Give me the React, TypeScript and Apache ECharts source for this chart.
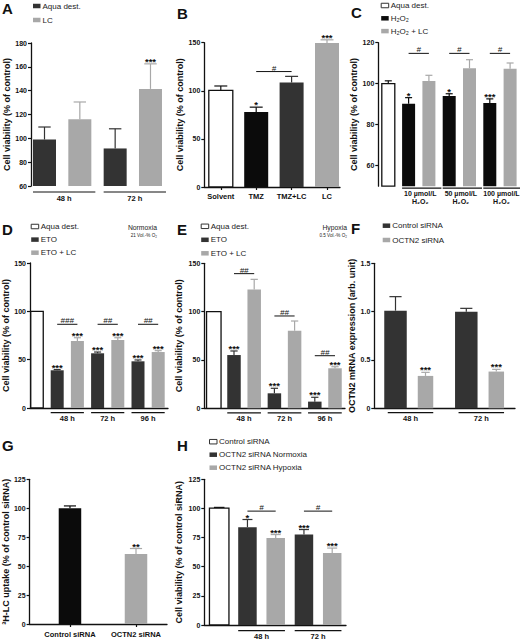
import React, { useEffect, useRef } from "react";
import * as echarts from "echarts";

// ---------------- DATA ----------------
// Panel A
const A_times = ["48 h", "72 h"];
const A_aqua = [99, 91.5];
const A_aquaErr = [10.5, 16.5];
const A_lc = [116, 141.5];
const A_lcErr = [14.5, 21];
const A_lcSig = ["", "***"];

// Panel B
const B_groups = ["Solvent", "TMZ", "TMZ+LC", "LC"];
const B_values = [100.4, 78, 108.6, 149.6];
const B_err = [4.6, 5, 6.4, 3.4];
const B_sig = ["", "*", "", "***"];
const B_hashY = [120];
const B_hashLabel = ["#"];

// Panel C
const C_doses = ["10 µmol/L", "50 µmol/L", "100 µmol/L"];
const C_aqua = [100];
const C_aquaErr = [1.4];
const C_h2o2 = [90.2, 94, 90.6];
const C_h2o2Err = [3, 1.1, 2];
const C_h2o2Sig = ["*", "*", "***"];
const C_lc = [101.3, 107.5, 107.3];
const C_lcErr = [2.8, 4.2, 2.8];
const C_hashY = [114.8, 114.8, 114.8];
const C_hashLabel = ["#", "#", "#"];

// Panel D (Normoxia)
const D_times = ["48 h", "72 h", "96 h"];
const D_aqua = [100];
const D_eto = [39, 56.6, 48.3];
const D_etoErr = [0.7, 1.3, 1.4];
const D_etoSig = ["***", "***", "***"];
const D_lc = [69.3, 70.3, 57.9];
const D_lcErr = [3.4, 2.4, 1.4];
const D_lcSig = ["***", "***", "***"];
const D_hashY = [86.6, 86.6, 86.6];
const D_hashLabel = ["###", "##", "##"];

// Panel E (Hypoxia)
const E_times = ["48 h", "72 h", "96 h"];
const E_aqua = [100];
const E_eto = [55.1, 15.5, 6.9];
const E_etoErr = [4.2, 5.2, 4.5];
const E_etoSig = ["***", "***", "***"];
const E_lc = [122.9, 80.3, 41.4];
const E_lcErr = [10.5, 10, 1.6];
const E_lcSig = ["", "", "***"];
const E_hashY = [139.3, 95.5, 54.4];
const E_hashLabel = ["##", "##", "##"];

// Panel F
const F_times = ["48 h", "72 h"];
const F_ctrl = [1.01, 1.0];
const F_ctrlErr = [0.145, 0.034];
const F_octn = [0.335, 0.38];
const F_octnErr = [0.037, 0.023];
const F_octnSig = ["***", "***"];
const F_ticks = ["0", "0.5", "1.0", "1.5"];

// Panel G
const G_groups = ["Control siRNA", "OCTN2 siRNA"];
const G_values = [100, 60.5];
const G_err = [2, 4.7];
const G_sig = ["", "**"];

// Panel H
const H_times = ["48 h", "72 h"];
const H_ctrl = [100.3];
const H_ctrlErr = [0.6];
const H_norm = [83.9, 77.6];
const H_normErr = [6.6, 4.3];
const H_normSig = ["*", "***"];
const H_hyp = [74.7, 61.8];
const H_hypErr = [2.9, 4.2];
const H_hypSig = ["***", "***"];
const H_hashY = [97.7, 97.7];
const H_hashLabel = ["#", "#"];

// ---------------- STYLE ----------------
const FONT = '"Liberation Sans", Arial, Helvetica, sans-serif';
const INK = "#111111";
const DARK = "#333333";
const BLACK = "#0b0b0b";
const LIGHT = "#a8a8a8";
const WHITE = "#ffffff";
const YNAME = "Cell viability (% of control)";

type Bar = {
  name: string;
  slots: number[];
  values: number[];
  errs: number[];
  sig?: string[];
  color: string | string[];
  barW: number;
};
type Panel = {
  id: string;
  geom: { axisX: number; top: number; bottom: number; c0: number; s: number; right: number };
  y: { min: number; max: number; interval?: number; custom?: number[]; fmt?: (v: number) => string };
  yName: string;
  nameGap: number;
  xLine: boolean;
  xLabels?: { slots: number[]; labels: string[]; margin: number };
  bars: Bar[];
  brackets?: { a: number; b: number; y: number; label: string }[];
  groups?: { a: number; b: number; label: string }[];
  gl?: { lineOff: number; labelOff: number; extL: number; extR: number; lineH?: number; font?: number; shift?: number };
  legend?: { left: number; top: number; gap: number };
};

const pairSlots = (n: number, k: number, start: number, step: number) =>
  Array.from({ length: n }, (_, g) => start + g * step + k);

const panels: Panel[] = [
  {
    id: "A",
    geom: { axisX: 31, top: 43, bottom: 186, c0: 44.5, s: 35.33, right: 168 },
    y: { min: 60, max: 180, interval: 20 },
    yName: YNAME,
    nameGap: 18,
    xLine: false,
    bars: [
      { name: "Aqua dest.", slots: pairSlots(2, 0, 0, 2), values: A_aqua, errs: A_aquaErr, color: DARK, barW: 23 },
      { name: "LC", slots: pairSlots(2, 1, 0, 2), values: A_lc, errs: A_lcErr, sig: A_lcSig, color: LIGHT, barW: 23 },
    ],
    groups: A_times.map((t, g) => ({ a: 2 * g, b: 2 * g + 1, label: t })),
    gl: { lineOff: 6, labelOff: 12.5, extL: 0, extR: 4 },
    legend: { left: 33, top: 1, gap: 4 },
  },
  {
    id: "B",
    geom: { axisX: 204.3, top: 42.7, bottom: 187, c0: 220.8, s: 35.4, right: 340 },
    y: { min: 0, max: 150, interval: 50 },
    yName: YNAME,
    nameGap: 14.5,
    xLine: true,
    xLabels: { slots: B_groups.map((_, i) => i), labels: B_groups, margin: 5 },
    bars: [
      { name: "B", slots: B_groups.map((_, i) => i), values: B_values, errs: B_err, sig: B_sig, color: [WHITE, BLACK, DARK, LIGHT], barW: 24 },
    ],
    brackets: B_hashY.map((y, i) => ({ a: 1, b: 2, y, label: B_hashLabel[i] })),
  },
  {
    id: "C",
    geom: { axisX: 378.3, top: 42.7, bottom: 186.2, c0: 388.3, s: 20.3, right: 520 },
    y: { min: 50, max: 120, custom: [60, 80, 100, 120] },
    yName: YNAME,
    nameGap: 15.5,
    xLine: false,
    bars: [
      { name: "Aqua dest.", slots: [0], values: C_aqua, errs: C_aquaErr, color: WHITE, barW: 13 },
      { name: "H₂O₂", slots: pairSlots(3, 0, 1, 2), values: C_h2o2, errs: C_h2o2Err, sig: C_h2o2Sig, color: BLACK, barW: 13 },
      { name: "H₂O₂ + LC", slots: pairSlots(3, 1, 1, 2), values: C_lc, errs: C_lcErr, color: LIGHT, barW: 13 },
    ],
    brackets: C_doses.map((_, g) => ({ a: 1 + 2 * g, b: 2 + 2 * g, y: C_hashY[g], label: C_hashLabel[g] })),
    groups: C_doses.map((d, g) => ({ a: 1 + 2 * g, b: 2 + 2 * g, label: d + "\nH₂O₂" })),
    gl: { lineOff: 2, labelOff: 11.3, extL: 0, extR: 6, lineH: 8.4, font: 7, shift: -1.5 },
    legend: { left: 380.7, top: 0.5, gap: 2.8 },
  },
  {
    id: "D",
    geom: { axisX: 30, top: 263, bottom: 408, c0: 37, s: 20.2, right: 168 },
    y: { min: 0, max: 150, interval: 50 },
    yName: YNAME,
    nameGap: 17.5,
    xLine: true,
    bars: [
      { name: "Aqua dest.", slots: [0], values: D_aqua, errs: [0], color: WHITE, barW: 12.5 },
      { name: "ETO", slots: pairSlots(3, 0, 1, 2), values: D_eto, errs: D_etoErr, sig: D_etoSig, color: DARK, barW: 13 },
      { name: "ETO + LC", slots: pairSlots(3, 1, 1, 2), values: D_lc, errs: D_lcErr, sig: D_lcSig, color: LIGHT, barW: 13 },
    ],
    brackets: D_times.map((_, g) => ({ a: 1 + 2 * g, b: 2 + 2 * g, y: D_hashY[g], label: D_hashLabel[g] })),
    groups: D_times.map((t, g) => ({ a: 1 + 2 * g, b: 2 + 2 * g, label: t })),
    gl: { lineOff: 4.7, labelOff: 10.5, extL: 0, extR: 0 },
    legend: { left: 30.7, top: 221.5, gap: 3.1 },
  },
  {
    id: "E",
    geom: { axisX: 204.3, top: 263.3, bottom: 408.3, c0: 213.8, s: 20.2, right: 345 },
    y: { min: 0, max: 150, interval: 50 },
    yName: YNAME,
    nameGap: 20.5,
    xLine: true,
    bars: [
      { name: "Aqua dest.", slots: [0], values: E_aqua, errs: [0], color: WHITE, barW: 14.5 },
      { name: "ETO", slots: pairSlots(3, 0, 1, 2), values: E_eto, errs: E_etoErr, sig: E_etoSig, color: DARK, barW: 13.5 },
      { name: "ETO + LC", slots: pairSlots(3, 1, 1, 2), values: E_lc, errs: E_lcErr, sig: E_lcSig, color: LIGHT, barW: 13.5 },
    ],
    brackets: E_times.map((_, g) => ({ a: 1 + 2 * g, b: 2 + 2 * g, y: E_hashY[g], label: E_hashLabel[g] })),
    groups: E_times.map((t, g) => ({ a: 1 + 2 * g, b: 2 + 2 * g, label: t })),
    gl: { lineOff: 4.5, labelOff: 10.3, extL: 0, extR: 0 },
    legend: { left: 200.7, top: 221.3, gap: 3.5 },
  },
  {
    id: "F",
    geom: { axisX: 374.3, top: 263.3, bottom: 408.3, c0: 395.5, s: 30, right: 515 },
    y: { min: 0, max: 1.5, interval: 0.5, fmt: (v: number) => F_ticks[Math.round(v * 2)] },
    yName: "OCTN2 mRNA expression (arb. unit)",
    nameGap: 11,
    xLine: true,
    bars: [
      { name: "Control siRNA", slots: pairSlots(2, 0, 0, 2.36), values: F_ctrl, errs: F_ctrlErr, color: DARK, barW: 22.5 },
      { name: "OCTN2 siRNA", slots: pairSlots(2, 1, 0, 2.36), values: F_octn, errs: F_octnErr, sig: F_octnSig, color: LIGHT, barW: 15.5 },
    ],
    groups: F_times.map((t, g) => ({ a: g * 2.36, b: g * 2.36 + 1, label: t })),
    gl: { lineOff: 4.4, labelOff: 10.2, extL: 0, extR: 0 },
    legend: { left: 382.7, top: 220.7, gap: 4.3 },
  },
  {
    id: "G",
    geom: { axisX: 20.7, top: 479.3, bottom: 624, c0: 63.7, s: 70.3, right: 167 },
    y: { min: 0, max: 125, interval: 25 },
    yName: "³H-LC uptake (% of control siRNA)",
    nameGap: 12,
    xLine: true,
    xLabels: { slots: [0, 1], labels: G_groups, margin: 6 },
    bars: [
      { name: "G", slots: [0, 1], values: G_values, errs: G_err, sig: G_sig, color: [BLACK, LIGHT], barW: 22.5 },
    ],
  },
  {
    id: "H",
    geom: { axisX: 204.3, top: 479.3, bottom: 625, c0: 219.2, s: 28.25, right: 346 },
    y: { min: 0, max: 125, interval: 25 },
    yName: "Cell viability (% of control siRNA)",
    nameGap: 20.5,
    xLine: true,
    bars: [
      { name: "Control siRNA", slots: [0], values: H_ctrl, errs: H_ctrlErr, color: WHITE, barW: 19.5 },
      { name: "OCTN2 siRNA Normoxia", slots: pairSlots(2, 0, 1, 2), values: H_norm, errs: H_normErr, sig: H_normSig, color: DARK, barW: 18.5 },
      { name: "OCTN2 siRNA Hypoxia", slots: pairSlots(2, 1, 1, 2), values: H_hyp, errs: H_hypErr, sig: H_hypSig, color: LIGHT, barW: 18.5 },
    ],
    brackets: H_times.map((_, g) => ({ a: 1 + 2 * g, b: 2 + 2 * g, y: H_hashY[g], label: H_hashLabel[g] })),
    groups: H_times.map((t, g) => ({ a: 1 + 2 * g, b: 2 + 2 * g, label: t })),
    gl: { lineOff: 5.7, labelOff: 11.7, extL: 0, extR: 0 },
    legend: { left: 209, top: 436.7, gap: 3 },
  },
];

const SEP = "@@";

function buildOption() {
  const grid: any[] = [];
  const xAxis: any[] = [];
  const yAxis: any[] = [];
  const series: any[] = [];
  const legend: any[] = [];

  panels.forEach((p, gi) => {
    const g = p.geom;
    const xmin = -(g.c0 - g.axisX) / g.s;
    const xmax = (g.right - g.c0) / g.s;
    grid.push({ left: g.axisX, top: g.top, width: g.right - g.axisX, height: g.bottom - g.top, containLabel: false });
    xAxis.push({
      type: "value",
      gridIndex: gi,
      min: xmin,
      max: xmax,
      show: p.xLine,
      splitLine: { show: false },
      axisLine: { show: true, onZero: false, lineStyle: { color: INK, width: 1.3 } },
      axisTick: p.xLabels
        ? { show: true, length: 3, customValues: p.xLabels.slots, lineStyle: { color: INK, width: 1.2 } }
        : { show: false },
      axisLabel: p.xLabels
        ? {
            show: true,
            customValues: p.xLabels.slots,
            formatter: (v: number) => p.xLabels!.labels[p.xLabels!.slots.indexOf(Math.round(v))] ?? "",
            fontSize: 7.5,
            fontWeight: "bold",
            color: INK,
            margin: p.xLabels.margin,
            fontFamily: FONT,
          }
        : { show: false },
    });
    const yAx: any = {
      type: "value",
      gridIndex: gi,
      min: p.y.min,
      max: p.y.max,
      splitLine: { show: false },
      axisLine: { show: true, onZero: false, lineStyle: { color: INK, width: 1.3 } },
      axisTick: { show: true, length: 3, lineStyle: { color: INK, width: 1.2 } },
      axisLabel: { fontSize: 7, fontWeight: "bold", color: INK, margin: 4, fontFamily: FONT },
      name: p.yName,
      nameLocation: "middle",
      nameGap: p.nameGap,
      nameTextStyle: { fontSize: 9, fontWeight: "bold", color: INK, fontFamily: FONT },
    };
    if (p.y.interval) yAx.interval = p.y.interval;
    if (p.y.custom) {
      yAx.axisTick.customValues = p.y.custom;
      yAx.axisLabel.customValues = p.y.custom;
    }
    if (p.y.fmt) yAx.axisLabel.formatter = p.y.fmt;
    yAxis.push(yAx);

    const yMin = p.y.min;

    p.bars.forEach((b) => {
      const fills = b.slots.map((_, i) => (Array.isArray(b.color) ? b.color[i] : b.color));
      const first = fills[0];
      series.push({
        type: "custom",
        name: b.name + SEP + p.id,
        xAxisIndex: gi,
        yAxisIndex: gi,
        clip: false,
        itemStyle: { color: first, borderColor: first === WHITE ? INK : first, borderWidth: first === WHITE ? 1 : 0 },
        encode: { x: 0, y: [1, 2] },
        data: b.slots.map((sl, i) => [sl, b.values[i], b.values[i] + (b.errs[i] || 0)]),
        renderItem: (params: any, api: any) => {
          const i = params.dataIndex;
          const x = api.value(0);
          const v = api.value(1);
          const e = api.value(2);
          const p0 = api.coord([x, yMin]);
          const p1 = api.coord([x, v]);
          const pe = api.coord([x, e]);
          const fill = fills[i];
          const isWhite = fill === WHITE;
          const stroke = isWhite ? INK : fill;
          const w = b.barW;
          const children: any[] = [
            {
              type: "rect",
              shape: { x: p1[0] - w / 2, y: p1[1], width: w, height: p0[1] - p1[1] },
              style: { fill, stroke: isWhite ? INK : null, lineWidth: isWhite ? 1.3 : 0 },
            },
          ];
          let topY = p1[1];
          if (e > v) {
            children.push({
              type: "line",
              shape: { x1: p1[0], y1: p1[1], x2: p1[0], y2: pe[1] },
              style: { stroke, lineWidth: 1.2 },
            });
            children.push({
              type: "line",
              shape: { x1: p1[0] - w * 0.27, y1: pe[1], x2: p1[0] + w * 0.27, y2: pe[1] },
              style: { stroke, lineWidth: 1.2 },
            });
            topY = pe[1];
          }
          const s = b.sig ? b.sig[i] : "";
          if (s) {
            children.push({
              type: "text",
              style: {
                text: s,
                x: p1[0],
                y: topY + 2.5,
                align: "center",
                verticalAlign: "bottom",
                fontSize: 9.5,
                fontWeight: "bold",
                fontFamily: FONT,
                fill: INK,
              },
            });
          }
          return { type: "group", children };
        },
      });
    });

    if (p.brackets && p.brackets.length) {
      series.push({
        type: "custom",
        name: "brackets" + SEP + p.id,
        xAxisIndex: gi,
        yAxisIndex: gi,
        clip: false,
        encode: { x: [0, 1], y: 2 },
        data: p.brackets.map((br) => [br.a, br.b, br.y]),
        renderItem: (params: any, api: any) => {
          const br = p.brackets![params.dataIndex];
          const a = api.coord([api.value(0), api.value(2)]);
          const c = api.coord([api.value(1), api.value(2)]);
          return {
            type: "group",
            children: [
              { type: "line", shape: { x1: a[0], y1: a[1], x2: c[0], y2: c[1] }, style: { stroke: INK, lineWidth: 1 } },
              {
                type: "text",
                style: {
                  text: br.label,
                  x: (a[0] + c[0]) / 2,
                  y: a[1] + 0.5,
                  align: "center",
                  verticalAlign: "bottom",
                  fontSize: 8,
                  fontStyle: "italic",
                  fontFamily: FONT,
                  fill: INK,
                },
              },
            ],
          };
        },
      });
    }

    if (p.groups && p.gl) {
      const gl = p.gl;
      const wA = p.bars[p.bars.length - 1].barW;
      series.push({
        type: "custom",
        name: "groups" + SEP + p.id,
        xAxisIndex: gi,
        yAxisIndex: gi,
        clip: false,
        encode: { x: [0, 1], y: 2 },
        data: p.groups.map((gr) => [gr.a, gr.b, yMin]),
        renderItem: (params: any, api: any) => {
          const gr = p.groups![params.dataIndex];
          const a = api.coord([api.value(0), yMin]);
          const c = api.coord([api.value(1), yMin]);
          const ly = a[1] + gl.lineOff;
          const x1 = a[0] - wA / 2 - gl.extL;
          const x2 = c[0] + wA / 2 + gl.extR;
          return {
            type: "group",
            children: [
              { type: "line", shape: { x1, y1: ly, x2, y2: ly }, style: { stroke: INK, lineWidth: 1.2 } },
              {
                type: "text",
                style: {
                  text: gr.label,
                  x: (x1 + x2) / 2 + (gl.shift || 0),
                  y: a[1] + gl.labelOff,
                  align: "center",
                  verticalAlign: "middle",
                  fontSize: gl.font || 7.5,
                  fontWeight: "bold",
                  fontFamily: FONT,
                  lineHeight: gl.lineH || 10,
                  fill: INK,
                },
              },
            ],
          };
        },
      });
    }

    if (p.legend) {
      legend.push({
        left: p.legend.left,
        top: p.legend.top,
        orient: "vertical",
        padding: 0,
        itemWidth: 7.5,
        itemHeight: 4.5,
        itemGap: p.legend.gap,
        icon: "rect",
        selectedMode: false,
        formatter: (n: string) => n.split(SEP)[0],
        textStyle: { fontSize: 8, lineHeight: 10, color: "#222", fontFamily: FONT, padding: [0, 0, 0, -3] },
        data: p.bars.map((b) => {
          const c = Array.isArray(b.color) ? b.color[0] : b.color;
          return {
            name: b.name + SEP + p.id,
            itemStyle: { color: c, borderColor: c === WHITE ? "#333" : c, borderWidth: c === WHITE ? 1 : 0 },
          };
        }),
      });
    }
  });

  const letter = (t: string, x: number, y: number) => ({
    type: "text",
    x,
    y,
    style: { text: t, fontSize: 15, fontWeight: "bold", fontFamily: FONT, fill: INK, verticalAlign: "middle", align: "left" },
  });
  const small = (t: string, x: number, y: number, size: number) => ({
    type: "text",
    x,
    y,
    style: { text: t, fontSize: size, fontFamily: FONT, fill: "#222", verticalAlign: "middle", align: "right" },
  });

  const graphic = [
    letter("A", 2, 8),
    letter("B", 177, 13),
    letter("C", 351, 12.5),
    letter("D", 2, 229),
    letter("E", 177, 229),
    letter("F", 351, 228.5),
    letter("G", 2, 445.5),
    letter("H", 177, 445.5),
    small("Normoxia", 157, 227.5, 6.8),
    small("21 Vol.-% O₂", 157, 235.5, 4.6),
    small("Hypoxia", 347, 227.5, 6.8),
    small("0.5 Vol.-% O₂", 347, 235.5, 4.6),
  ];

  return {
    animation: false,
    backgroundColor: "#ffffff",
    textStyle: { fontFamily: FONT },
    grid,
    xAxis,
    yAxis,
    legend,
    series,
    graphic,
  };
}

export default function App() {
  const ref = useRef<HTMLDivElement>(null);
  useEffect(() => {
    document.body.style.margin = "0";
    if (!ref.current) return;
    const chart = echarts.init(ref.current, undefined, { renderer: "svg" });
    chart.setOption(buildOption() as any);
    return () => chart.dispose();
  }, []);
  return <div ref={ref} style={{ width: 520, height: 642 }} />;
}
